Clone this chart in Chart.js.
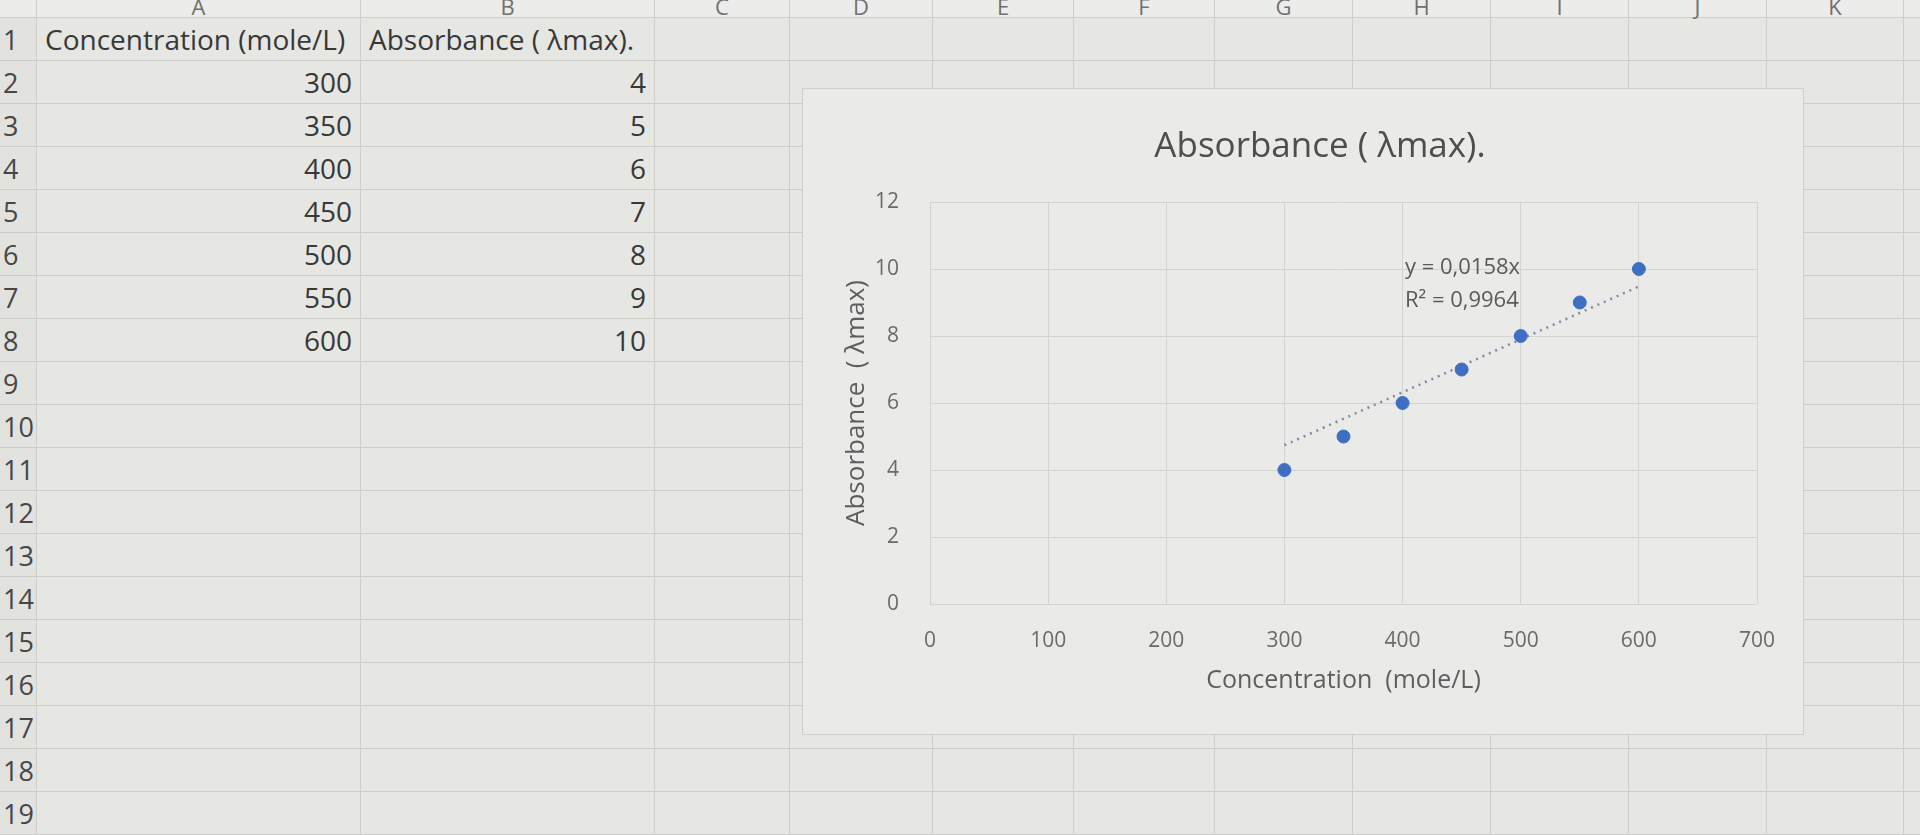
<!DOCTYPE html>
<html>
<head>
<meta charset="utf-8">
<script src="https://cdn.jsdelivr.net/npm/chart.js@4.4.1/dist/chart.umd.min.js"></script>
<style>
body{margin:0;width:1920px;height:835px;background:#e6e6e3;overflow:hidden;position:relative;font-family:"Open Sans",sans-serif}
.cell{position:absolute;box-sizing:border-box;border-right:1px solid #cdcdca;border-bottom:1px solid #cdcdca;color:#383838;font-size:28px;line-height:43px;white-space:nowrap;padding:0 8px}
.hdr{background:#ececea;color:#707070;font-size:22px;line-height:24px;text-align:center}
.rown{background:#e2e2df;color:#474747;font-size:27px;padding:0 3px}
.num{text-align:right}
#chartBox{position:absolute;left:802px;top:88px;width:1002px;height:647px;background:#eaeae8;border:1px solid #cfcfcc;box-sizing:border-box}
</style>
</head>
<body>
<div id="chartBox"><canvas id="myChart" width="1000" height="645"></canvas></div>
<script>
// sheet data
const concentration = [300, 350, 400, 450, 500, 550, 600];
const absorbance = [4, 5, 6, 7, 8, 9, 10];
const headerA = "Concentration (mole/L)";
const headerB = "Absorbance ( λmax).";
const colLetters = ["", "A", "B", "C", "D", "E", "F", "G", "H", "I", "J", "K", ""];
const rowCount = 19;

// linear trendline through origin (endpoints)
const trendX = [300, 600];
const trendY = [4.74, 9.48];
const trendText = ["y = 0,0158x", "R² = 0,9964"];
const chartTitle = "Absorbance ( λmax).";

const colEdges = [0, 37, 361, 655, 790, 933, 1074, 1215, 1353, 1491, 1629, 1767, 1904, 1920];
const headH = 18, rowH = 43;

function addCell(x, y, w, h, cls, text){
  const d = document.createElement("div");
  d.className = "cell " + cls;
  d.style.left = x + "px"; d.style.top = y + "px";
  d.style.width = w + "px"; d.style.height = h + "px";
  d.textContent = text;
  document.body.insertBefore(d, document.getElementById("chartBox"));
}

for (let c = 0; c < colLetters.length; c++) {
  const x = colEdges[c], w = colEdges[c + 1] - colEdges[c];
  addCell(x, -6, w, headH + 6, "hdr", colLetters[c]);
  for (let r = 1; r <= rowCount; r++) {
    const y = headH + (r - 1) * rowH;
    let text = "", cls = "";
    if (c == 0) { text = r; cls = "rown"; }
    else if (c == 1) {
      if (r == 1) text = headerA;
      else if (r - 2 < concentration.length) { text = concentration[r - 2]; cls = "num"; }
    } else if (c == 2) {
      if (r == 1) text = headerB;
      else if (r - 2 < absorbance.length) { text = absorbance[r - 2]; cls = "num"; }
    }
    addCell(x, y, w, rowH, cls, text);
  }
}

const points = concentration.map((x, i) => ({x: x, y: absorbance[i]}));
const trend = trendX.map((x, i) => ({x: x, y: trendY[i]}));

// excel puts the title a little right of the plot centre, so draw it by hand
const titleAndLabel = {
  id: "titleAndLabel",
  afterDatasetsDraw(chart) {
    const ctx = chart.ctx, xs = chart.scales.x, ys = chart.scales.y;
    ctx.save();
    ctx.fillStyle = "#4e4e4e";
    ctx.font = "35px 'Open Sans'";
    ctx.textAlign = "center";
    ctx.textBaseline = "middle";
    ctx.fillText(chartTitle, chart.width * 0.517, 58);

    ctx.fillStyle = "#5a5a5a";
    ctx.font = "22px 'Open Sans'";
    ctx.textAlign = "left";
    ctx.fillText(trendText[0], xs.getPixelForValue(402), ys.getPixelForValue(10.05));
    ctx.fillText(trendText[1], xs.getPixelForValue(402), ys.getPixelForValue(9.05));
    ctx.restore();
  }
};

Chart.defaults.font.family = "'Open Sans', sans-serif";
Chart.defaults.color = "#5e5e5e";

new Chart("myChart", {
  type: "scatter",
  data: {
    datasets: [{
      data: points,
      backgroundColor: "#3f6fc2",
      borderColor: "#3f6fc2",
      pointRadius: 6.5
    }, {
      type: "line",
      data: trend,
      borderColor: "#7d8ba6",
      borderWidth: 2.5,
      borderDash: [2, 5],
      pointRadius: 0,
      fill: false
    }]
  },
  options: {
    responsive: false,
    animation: false,
    layout: {padding: {left: 34, right: 46, top: 113, bottom: 34}},
    plugins: {
      legend: {display: false},
      tooltip: {enabled: false},
      title: {display: false}
    },
    scales: {
      x: {
        type: "linear", min: 0, max: 700,
        afterFit: s => { s.height = 96; },
        ticks: {stepSize: 100, font: {size: 21}, padding: 24, color: "#6a6a6a"},
        grid: {color: "#d3d3d0", drawTicks: false},
        border: {display: false},
        title: {display: true, text: "Concentration  (mole/L)", font: {size: 25}, padding: {top: 16, bottom: 4}}
      },
      y: {
        min: 0, max: 12,
        afterFit: s => { s.width = 93; },
        ticks: {stepSize: 2, font: {size: 21}, padding: 31, color: "#6a6a6a"},
        grid: {color: "#d3d3d0", drawTicks: false},
        border: {display: false},
        title: {display: true, text: "Absorbance  ( λmax)", font: {size: 26}, padding: {top: 4, bottom: 10}}
      }
    }
  },
  plugins: [titleAndLabel]
});
</script>
</body>
</html>
